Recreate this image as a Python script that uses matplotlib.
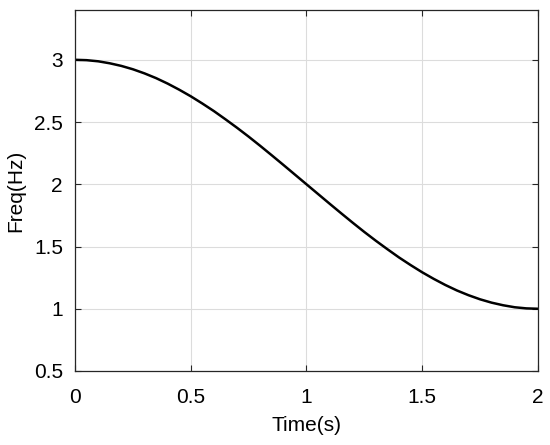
import numpy as np
import matplotlib
matplotlib.use("Agg")
import matplotlib.pyplot as plt

# Values
time_s = [0.0, 0.05, 0.1, 0.15, 0.2, 0.25, 0.3, 0.35, 0.4, 0.45, 0.5,
          0.55, 0.6, 0.65, 0.7, 0.75, 0.8, 0.85, 0.9, 0.95, 1.0,
          1.05, 1.1, 1.15, 1.2, 1.25, 1.3, 1.35, 1.4, 1.45, 1.5,
          1.55, 1.6, 1.65, 1.7, 1.75, 1.8, 1.85, 1.9, 1.95, 2.0]
freq_hz = [3.0, 2.997, 2.988, 2.972, 2.951, 2.924, 2.891, 2.853, 2.809, 2.760, 2.707,
           2.649, 2.588, 2.522, 2.454, 2.383, 2.309, 2.233, 2.156, 2.078, 2.0,
           1.922, 1.844, 1.767, 1.691, 1.617, 1.546, 1.478, 1.412, 1.351, 1.293,
           1.240, 1.191, 1.147, 1.109, 1.076, 1.049, 1.028, 1.012, 1.003, 1.0]
x_ticks = [0, 0.5, 1, 1.5, 2]
x_labels = ["0", "0.5", "1", "1.5", "2"]
y_ticks = [0.5, 1, 1.5, 2, 2.5, 3]
y_labels = ["0.5", "1", "1.5", "2", "2.5", "3"]

plt.rcParams["font.family"] = ["Liberation Sans", "DejaVu Sans"]

fig = plt.figure(figsize=(5.5, 4.45), dpi=100)
ax = fig.add_axes([0.1364, 0.1663, 0.978 - 0.1364, 0.9775 - 0.1663])

ax.plot(time_s, freq_hz, color="black", linewidth=1.8)

ax.set_xlim(0, 2)
ax.set_ylim(0.5, 3.4)
ax.set_xticks(x_ticks, x_labels)
ax.set_yticks(y_ticks, y_labels)
ax.tick_params(direction="in", length=4, width=0.8, colors="#262626",
               labelsize=15, top=True, right=True)
ax.tick_params(axis="x", pad=12)
ax.tick_params(axis="y", pad=8.7)
for lbl in ax.get_xticklabels() + ax.get_yticklabels():
    lbl.set_color("black")
ax.grid(True, color="#dcdcdc", linewidth=0.8)
ax.set_axisbelow(True)
for sp in ax.spines.values():
    sp.set_color("#262626")
    sp.set_linewidth(0.9)

ax.set_xlabel("Time(s)", fontsize=15, labelpad=7)
ax.set_ylabel("Freq(Hz)", fontsize=15, labelpad=6.5)

fig.savefig("out.png", dpi=100)
